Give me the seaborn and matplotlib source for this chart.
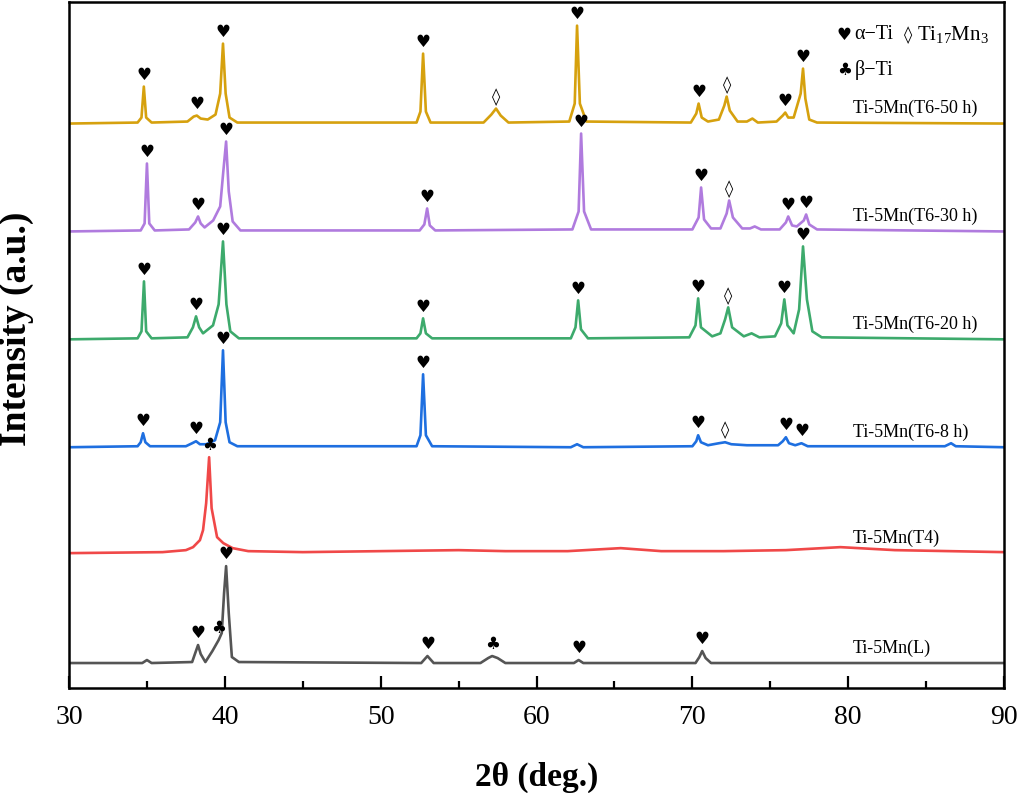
import numpy as np
import pandas as pd
import matplotlib
matplotlib.use("Agg")
import matplotlib.pyplot as plt
import seaborn as sns

# XRD patterns: 2theta (deg) and intensity above each baseline (a.u.)
tt_50h = [30, 34.4, 34.65, 34.8, 34.95, 35.3, 37.6, 38.0, 38.2, 38.45, 38.9, 39.4, 39.7, 39.88, 40.05, 40.3, 40.8,
          52.3, 52.55, 52.72, 52.9, 53.2, 56.6, 57.1, 57.4, 57.7, 58.2, 62.1, 62.45, 62.6, 62.78, 63.2,
          69.9, 70.25, 70.4, 70.6, 71.0, 71.7, 72.05, 72.2, 72.4, 72.9, 73.5, 73.85, 74.2, 75.4, 75.8, 75.96,
          76.15, 76.5, 76.95, 77.1, 77.25, 77.5, 78.0, 90]
i_50h = [0, 1, 6, 37, 6, 1, 2, 7, 8, 5, 4, 9, 30, 80, 30, 6, 1,
         1, 12, 70, 12, 1, 1, 9, 15, 8, 1, 2, 20, 98, 20, 2,
         1, 10, 20, 6, 2, 4, 18, 27, 13, 2, 2, 5, 1, 2, 8, 11,
         6, 6, 30, 55, 25, 4, 1, 0]

tt_30h = [30, 34.6, 34.85, 35.0, 35.15, 35.5, 37.7, 38.1, 38.28, 38.45, 38.7, 39.25, 39.7, 39.9, 40.08, 40.25, 40.5, 41.0,
          52.5, 52.8, 52.98, 53.15, 53.5, 62.3, 62.7, 62.86, 63.05, 63.5,
          70.0, 70.4, 70.56, 70.75, 71.2, 71.8, 72.2, 72.36, 72.6, 73.2, 73.7, 74.0, 74.4,
          75.6, 76.0, 76.15, 76.4, 76.7, 77.15, 77.3, 77.5, 78.0, 90]
i_30h = [0, 1, 8, 68, 8, 1, 2, 9, 15, 8, 4, 11, 25, 60, 90, 40, 10, 1,
         1, 7, 23, 6, 1, 2, 20, 98, 20, 2,
         2, 14, 44, 12, 3, 3, 18, 31, 14, 3, 3, 5, 2,
         2, 9, 15, 6, 5, 11, 17, 7, 2, 0]

tt_20h = [30, 34.4, 34.65, 34.81, 34.95, 35.3, 37.6, 37.95, 38.15, 38.35, 38.6, 39.24, 39.6, 39.88, 40.1, 40.35, 40.9,
          52.3, 52.55, 52.72, 52.9, 53.3, 62.2, 62.5, 62.67, 62.85, 63.3,
          69.8, 70.2, 70.37, 70.55, 71.27, 71.8, 72.1, 72.3, 72.55, 73.3, 73.8, 74.3,
          75.3, 75.7, 75.9, 76.1, 76.5, 76.85, 77.1, 77.35, 77.7, 78.3, 90]
i_20h = [0, 1, 8, 58, 8, 1, 2, 12, 23, 12, 6, 14, 35, 98, 35, 8, 1,
         1, 6, 21, 6, 1, 1, 12, 39, 10, 1,
         2, 14, 41, 12, 3, 6, 20, 32, 12, 3, 6, 2,
         3, 16, 40, 14, 6, 30, 93, 40, 8, 2, 0]

tt_8h = [30, 34.4, 34.6, 34.75, 34.9, 35.2, 37.5, 37.9, 38.15, 38.4, 38.8, 39.37, 39.7, 39.88, 40.05, 40.3, 40.8,
         52.3, 52.55, 52.72, 52.9, 53.3, 62.2, 62.6, 63.0,
         70.0, 70.25, 70.37, 70.55, 71.0, 71.7, 72.1, 72.5, 73.5, 75.5, 75.8, 76.0, 76.2, 76.6, 77.0, 77.4,
         86.2, 86.6, 86.9, 90]
i_8h = [0, 1, 5, 14, 5, 1, 1, 4, 6, 3, 3, 7, 25, 97, 25, 5, 1,
        1, 12, 73, 12, 1, 0, 3, 0,
        1, 6, 12, 5, 2, 4, 5, 3, 2, 2, 6, 10, 4, 2, 4, 1,
        1, 4, 1, 0]

tt_t4 = [30, 36.0, 37.5, 37.96, 38.4, 38.6, 38.8, 38.99, 39.15, 39.5, 39.9, 40.5, 41.5, 45, 50, 55, 58, 62, 65.4,
         68, 72, 76, 79.5, 83, 90]
i_t4 = [0, 1, 3, 6, 13, 23, 50, 96, 45, 16, 10, 5, 2, 1, 2, 3, 2, 2, 5,
        2, 2, 3, 6, 3, 1]

tt_l = [30, 34.7, 35.0, 35.3, 37.9, 38.1, 38.28, 38.45, 38.75, 39.2, 39.6, 39.8, 39.95, 40.08, 40.25, 40.45, 40.9,
        52.6, 53.0, 53.4, 56.4, 56.9, 57.15, 57.5, 58.0, 62.4, 62.7, 63.0, 70.2, 70.45, 70.63, 70.85, 71.2, 90]
i_l = [0, 0, 3, 0, 1, 10, 18, 9, 1, 12, 23, 30, 70, 97, 50, 6, 1,
       0, 7, 0, 0, 5, 7, 5, 0, 0, 3, 0, 0, 6, 12, 5, 0, 0]

names = ["Ti-5Mn(L)", "Ti-5Mn(T4)", "Ti-5Mn(T6-8 h)", "Ti-5Mn(T6-20 h)", "Ti-5Mn(T6-30 h)", "Ti-5Mn(T6-50 h)"]
angles = [tt_l, tt_t4, tt_8h, tt_20h, tt_30h, tt_50h]
intens = [i_l, i_t4, i_8h, i_20h, i_30h, i_50h]
offsets = [25, 135, 241, 349, 457, 565]
colors = ["#555555", "#F04848", "#1E6FE0", "#3DAA6C", "#B07BDE", "#D6A10E"]

# phase markers: (2theta, phase) per pattern
marks_l = [(38.28, "h"), (39.6, "c"), (40.08, "h"), (53.0, "h"), (57.15, "c"), (62.7, "h"), (70.63, "h")]
marks_t4 = [(38.99, "c")]
marks_8h = [(34.75, "h"), (38.15, "h"), (39.88, "h"), (52.72, "h"), (70.37, "h"), (72.1, "d"), (76.0, "h"), (77.0, "h")]
marks_20h = [(34.81, "h"), (38.15, "h"), (39.88, "h"), (52.72, "h"), (62.67, "h"), (70.37, "h"), (72.3, "d"),
             (75.9, "h"), (77.1, "h")]
marks_30h = [(35.0, "h"), (38.28, "h"), (40.08, "h"), (52.98, "h"), (62.86, "h"), (70.56, "h"), (72.36, "d"),
             (76.15, "h"), (77.3, "h")]
marks_50h = [(34.8, "h"), (38.2, "h"), (39.88, "h"), (52.72, "h"), (57.4, "d"), (62.6, "h"), (70.4, "h"),
             (72.2, "d"), (75.96, "h"), (77.1, "h")]
marks = [marks_l, marks_t4, marks_8h, marks_20h, marks_30h, marks_50h]
symbols = {"h": "\u2665", "d": "\u25CA", "c": "\u2663"}

sns.set_style("ticks")
plt.rcParams["font.family"] = ["Liberation Serif", "DejaVu Sans"]
plt.rcParams["mathtext.fontset"] = "custom"
plt.rcParams["mathtext.rm"] = "Liberation Serif"
plt.rcParams["mathtext.it"] = "Liberation Serif:italic"
plt.rcParams["text.color"] = "black"
plt.rcParams["axes.labelcolor"] = "black"
plt.rcParams["xtick.color"] = "black"

fig = plt.figure(figsize=(10.18, 7.93), dpi=100)
ax = fig.add_axes([0.0678, 0.1324, 0.9185, 0.8655])

for name, x, y, off, c, mk in zip(names, angles, intens, offsets, colors, marks):
    d = pd.DataFrame({"2theta": x, "I": np.array(y) + off})
    sns.lineplot(data=d, x="2theta", y="I", color=c, lw=1.9, ax=ax, estimator=None, sort=False)
    for pos, ph in mk:
        top = np.interp(pos, d["2theta"], d["I"])
        ax.annotate(symbols[ph], (pos, top), xytext=(0, 8.5), textcoords="offset points",
                    ha="center", va="center", fontsize=12,
                    family="DejaVu Sans", color="black")
    ax.text(80.3, off + 15, name, fontsize=13, ha="left", va="center")

# phase key
ax.text(0.837, 0.952, "\u2665", transform=ax.transAxes, family="DejaVu Sans", fontsize=12, ha="right", va="center")
ax.text(0.840, 0.952, "\u03b1\u2212Ti", transform=ax.transAxes, fontsize=14.5, ha="left", va="center")
ax.text(0.893, 0.952, "\u25CA", transform=ax.transAxes, family="DejaVu Sans", fontsize=12, ha="left", va="center")
ax.text(0.907, 0.952, "Ti$_{17}$Mn$_{3}$", transform=ax.transAxes, fontsize=15, ha="left", va="center")
ax.text(0.837, 0.901, "\u2663", transform=ax.transAxes, family="DejaVu Sans", fontsize=12, ha="right", va="center")
ax.text(0.840, 0.901, "\u03b2\u2212Ti", transform=ax.transAxes, fontsize=14.5, ha="left", va="center")

ax.set_xlim(30, 90)
ax.set_ylim(0, 687)
ax.set_xticks(np.arange(30, 91, 10))
ax.set_xticks(np.arange(35, 90, 10), minor=True)
ax.set_yticks([])
ax.tick_params(axis="x", which="major", direction="in", length=9, width=1.6, labelsize=20, pad=12,
               top=False)
ax.tick_params(axis="x", which="minor", direction="in", length=5, width=1.6, top=False)
for s in ax.spines.values():
    s.set_linewidth(1.8)
    s.set_color("black")
ax.set_xlabel("2\u03b8 (deg.)", fontsize=24, fontweight="bold", labelpad=23)
ax.set_ylabel("Intensity (a.u.)", fontsize=27, fontweight="bold")
ax.yaxis.set_label_coords(-0.037, 0.524)

fig.savefig("out.png", dpi=100)
